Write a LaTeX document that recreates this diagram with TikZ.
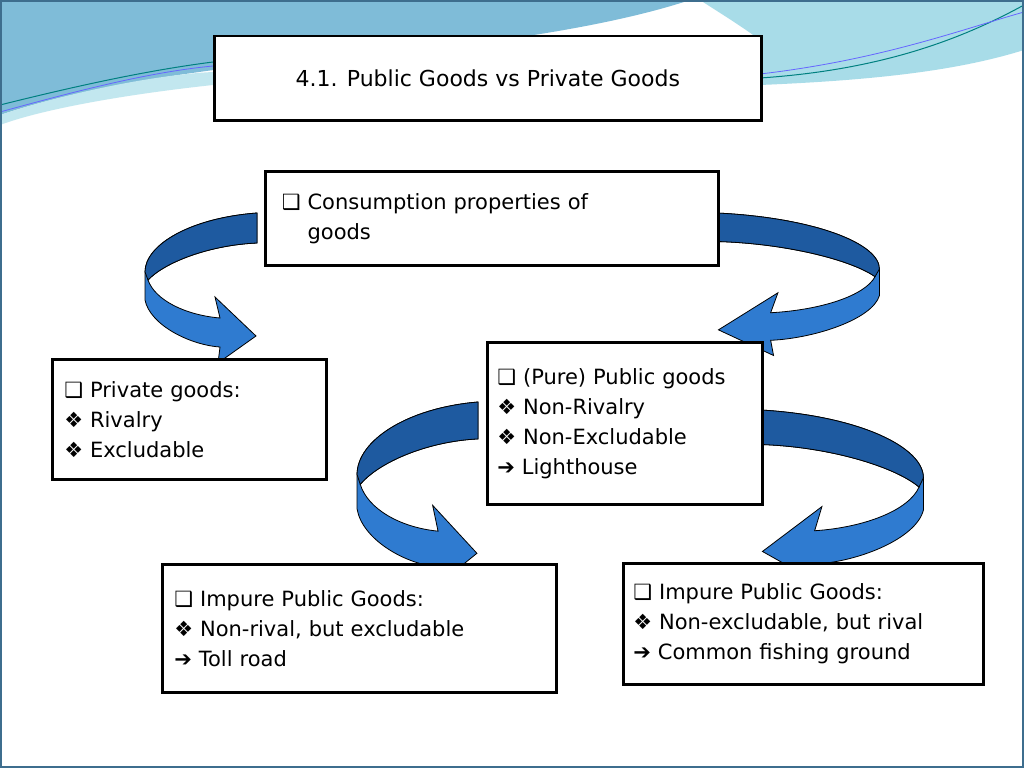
\documentclass[tikz,border=0pt]{standalone}
\usepackage{fontspec}
\setmainfont{DejaVu Sans}
\usepackage{tikz}

\definecolor{bandblue}{HTML}{2F7BD0}
\definecolor{banddark}{HTML}{1E5AA0}
\definecolor{wavelight}{HTML}{A8DCE8}
\definecolor{wavemid}{HTML}{7FBCD8}
\definecolor{framec}{HTML}{3E6E8E}

\tikzset{
  box/.style={draw, line width=2.5pt, fill=white, anchor=north west, align=left,
    inner sep=10pt, font=\fontsize{21}{30}\selectfont},
  band/.style={fill=bandblue, draw=black, line width=0.8pt},
  bandtop/.style={fill=banddark, draw=black, line width=0.8pt},
}

% one curved band arrow, drawn at the origin
\newcommand{\bandarrow}{%
  \draw[band] (0,0) .. controls (-67,5) and (-112,32) .. (-112,59) -- (-112,87)
    .. controls (-107,112) and (-67,132) .. (-37,134) -- (-39,150) -- (-1,123)
    -- (-42,84) -- (-37,105) .. controls (-72,102) and (-102,87) .. (-109,67)
    .. controls (-92,49) and (-47,32) .. (0,30) -- cycle;
  \draw[bandtop] (0,0) .. controls (-67,5) and (-112,32) .. (-112,59) -- (-109,67)
    .. controls (-92,49) and (-47,32) .. (0,30) -- cycle;}

\begin{document}
\begin{tikzpicture}[x=1pt, y=-1pt]
	\useasboundingbox (0,0) rectangle (1024,768);
	% slide background
	\fill[white] (0,0) rectangle (1024,768);
	\fill[wavelight] (700,0) -- (1024,0) -- (1024,50) .. controls (960,70) and (880,80) .. (760,85) -- (760,40) .. controls (740,25) and (715,10) .. (700,0) -- cycle;
	\fill[wavemid] (0,0) -- (690,0) .. controls (600,30) and (450,50) .. (300,60) .. controls (150,75) and (60,95) .. (0,115) -- cycle;
	\fill[wavelight!70] (0,115) .. controls (60,95) and (150,75) .. (213,72) -- (213,85) .. controls (120,95) and (40,110) .. (0,125) -- cycle;
	\draw[teal, line width=1pt] (0,105) .. controls (80,85) and (150,70) .. (213,62);
	\draw[blue!60, line width=0.8pt] (0,112) .. controls (80,90) and (150,72) .. (213,66);
	\draw[teal, line width=1pt] (760,78) .. controls (880,70) and (960,40) .. (1024,5);
	\draw[blue!60, line width=0.8pt] (760,74) .. controls (880,60) and (960,30) .. (1024,12);
	\draw[framec, line width=2pt] (1,1) rectangle (1023,767);

	% curved arrows
	\begin{scope}[shift={(257,213)}] \bandarrow \end{scope}
	\begin{scope}[shift={(717,213)}, xscale=-1.45, yscale=0.95] \bandarrow \end{scope}
	\begin{scope}[shift={(478,402)}, xscale=1.08, yscale=1.23] \bandarrow \end{scope}
	\begin{scope}[shift={(761,410)}, xscale=-1.45, yscale=1.15] \bandarrow \end{scope}

	% boxes
	\node (title) at (213,35) [box, minimum width=547pt, minimum height=84pt, align=center,
		font=\fontsize{22}{28}\selectfont] {4.1. Public Goods vs Private Goods};
	\node (cons) at (264,170) [box, minimum width=453pt, minimum height=94pt, text width=420pt]
		{❑ Consumption properties of\\\phantom{❑} goods};
	\node (private) at (51,358) [box, minimum width=274pt, minimum height=120pt, text width=250pt]
		{❑ Private goods:\\❖ Rivalry\\❖ Excludable};
	\node (public) at (486,341) [box, minimum width=274pt, minimum height=162pt, text width=255pt]
		{❑ (Pure) Public goods\\❖ Non-Rivalry\\❖ Non-Excludable\\➔ Lighthouse};
	\node (impure1) at (161,563) [box, minimum width=394pt, minimum height=128pt, text width=370pt]
		{❑ Impure Public Goods:\\❖ Non-rival, but excludable\\➔ Toll road};
	\node (impure2) at (622,562) [box, minimum width=360pt, minimum height=121pt, text width=340pt]
		{❑ Impure Public Goods:\\❖ Non-excludable, but rival\\➔ Common fishing ground};
\end{tikzpicture}
\end{document}
